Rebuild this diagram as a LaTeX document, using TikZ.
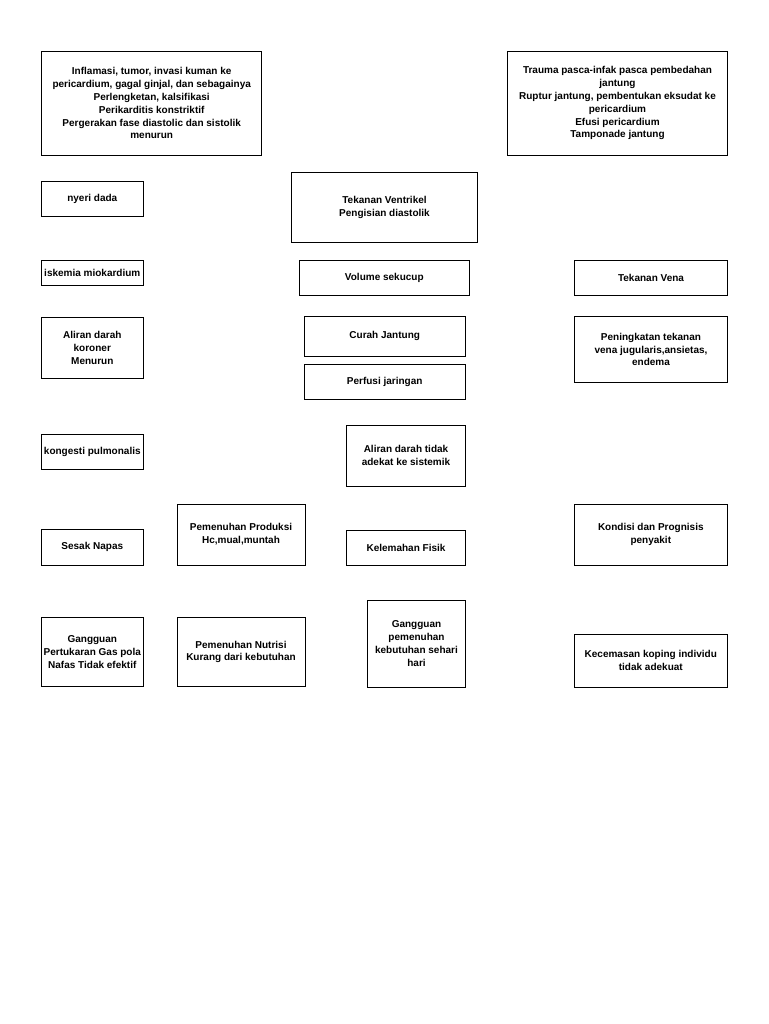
\documentclass[tikz,border=0pt]{standalone}
\usepackage{fontspec}
\setmainfont{Liberation Sans}
\begin{document}
\begin{tikzpicture}[x=1pt,y=-1pt,
  box/.style={draw=black, line width=0.8pt, rectangle, inner sep=0pt, align=center,
    font=\fontsize{10}{12.8}\selectfont\bfseries, text=black}]
\useasboundingbox[fill=white] (0,0) rectangle (768,1024);
% top boxes
\node[box, minimum width=220pt, minimum height=104.7pt] (cause1) at (151.7,103.3)
  {Inflamasi, tumor, invasi kuman ke\\pericardium, gagal ginjal, dan sebagainya\\Perlengketan, kalsifikasi\\Perikarditis konstriktif\\Pergerakan fase diastolic dan sistolik\\menurun};
\node[box, minimum width=220.4pt, minimum height=104.7pt] (cause2) at (617.5,103.3)
  {Trauma pasca-infak pasca pembedahan\\jantung\\Ruptur jantung, pembentukan eksudat ke\\pericardium\\Efusi pericardium\\Tamponade jantung};
% left column
\node[box, minimum width=101.3pt, minimum height=34.3pt] (nyeri) at (92.3,198.8) {nyeri dada};
\node[box, minimum width=101.3pt, minimum height=25.7pt] (iskemia) at (92.3,272.8) {iskemia miokardium};
\node[box, minimum width=101.3pt, minimum height=60.7pt] (koroner) at (92.3,347.7) {Aliran darah\\koroner\\Menurun};
\node[box, minimum width=101.3pt, minimum height=34.3pt] (kongesti) at (92.3,451.8) {kongesti pulmonalis};
\node[box, minimum width=101.3pt, minimum height=35.3pt] (sesak) at (92.3,547.3) {Sesak Napas};
\node[box, minimum width=101.3pt, minimum height=69.4pt] (gangguan1) at (92.3,652) {Gangguan\\Pertukaran Gas pola\\Nafas Tidak efektif};
% second column
\node[box, minimum width=128pt, minimum height=61pt] (produksi) at (241,534.5) {Pemenuhan Produksi\\Hc,mual,muntah};
\node[box, minimum width=128pt, minimum height=69.4pt] (nutrisi) at (241,652) {Pemenuhan Nutrisi\\Kurang dari kebutuhan};
% middle column
\node[box, minimum width=185.6pt, minimum height=69.6pt] (ventrikel) at (384.5,207.5) {Tekanan Ventrikel\\Pengisian diastolik};
\node[box, minimum width=170pt, minimum height=35.3pt] (volume) at (384.3,277.7) {Volume sekucup};
\node[box, minimum width=161.3pt, minimum height=39.3pt] (curah) at (384.7,336.3) {Curah Jantung};
\node[box, minimum width=161.3pt, minimum height=35pt] (perfusi) at (384.7,381.8) {Perfusi jaringan};
\node[box, minimum width=118.6pt, minimum height=60.3pt] (aliran) at (406,455.8) {Aliran darah tidak\\adekat ke sistemik};
\node[box, minimum width=118.6pt, minimum height=35pt] (lemah) at (406,547.5) {Kelemahan Fisik};
\node[box, minimum width=97.6pt, minimum height=87.3pt] (gangguan2) at (416.5,643.7) {Gangguan\\pemenuhan\\kebutuhan sehari\\hari};
% right column
\node[box, minimum width=153.4pt, minimum height=35pt] (vena) at (651,277.5) {Tekanan Vena};
\node[box, minimum width=153.4pt, minimum height=65.6pt] (jugular) at (651,349.5) {Peningkatan tekanan\\vena jugularis,ansietas,\\endema};
\node[box, minimum width=153pt, minimum height=61pt] (kondisi) at (650.8,534.5) {Kondisi dan Prognisis\\penyakit};
\node[box, minimum width=153pt, minimum height=53pt] (cemas) at (650.8,660.8) {Kecemasan koping individu\\tidak adekuat};
\end{tikzpicture}
\end{document}
